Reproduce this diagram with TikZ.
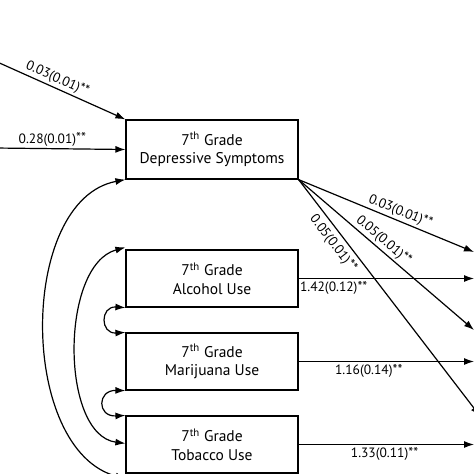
\documentclass[tikz,border=0pt]{standalone}
\usepackage{fontspec}
\setmainfont{PT Sans}
\usetikzlibrary{arrows.meta}
\newcommand{\sig}{\raisebox{0.1ex}{\fontsize{14}{14}\selectfont **}}
\begin{document}
\begin{tikzpicture}[x=1pt,y=-1pt,
  box/.style={draw,line width=1.2pt,minimum width=172pt,align=center,font=\fontsize{15.5}{18.5}\selectfont,inner sep=0pt},
  conn/.style={line width=1.2pt,-{Latex[length=10pt,width=7pt]}},
  dbl/.style={line width=1.2pt,{Latex[length=10pt,width=7pt]}-{Latex[length=10pt,width=7pt]}},
  lab/.style={font=\fontsize{13.5}{15}\selectfont,inner sep=2pt}]
\useasboundingbox (0,0) rectangle (474,474);
\clip (0,0) rectangle (474,474);
\node[box,minimum height=59pt] (dep) at (212,149.5) {7\textsuperscript{th} Grade\\Depressive Symptoms};
\node[box,minimum height=57pt] (alc) at (212,278.5) {7\textsuperscript{th} Grade\\Alcohol Use};
\node[box,minimum height=57pt] (mar) at (212,361.5) {7\textsuperscript{th} Grade\\Marijuana Use};
\node[box,minimum height=57pt] (tob) at (212,444.5) {7\textsuperscript{th} Grade\\Tobacco Use};
\coordinate (l1) at (-5,61);
\coordinate (l2) at (-5,148);
\coordinate (r1) at (474,252);
\coordinate (r2) at (474,330);
\coordinate (r3) at (480,416);
\coordinate (ra) at (474,278.5);
\coordinate (rm) at (474,361.5);
\coordinate (rt) at (474,444.5);
% left inputs
\draw[conn] (l1) -- node[lab,sloped,above,pos=0.45]{0.03(0.01)\sig} (dep.north west);
\draw[conn] (l2) -- node[lab,above,pos=0.44]{0.28(0.01)\sig} (dep.west);
% right outputs
\draw[conn] (dep.south east) -- node[lab,sloped,above,pos=0.56]{0.03(0.01)\sig} (r1);
\draw[conn] (dep.south east) -- node[lab,sloped,above,pos=0.45]{0.05(0.01)\sig} (r2);
\draw[conn] (dep.south east) -- node[lab,sloped,below=2pt,pos=0.24]{0.05(0.01)\sig} (r3);
\draw[conn] (alc.east) -- node[lab,below,pos=0.2]{1.42(0.12)\sig} (ra);
\draw[conn] (mar.east) -- node[lab,below,pos=0.4]{1.16(0.14)\sig} (rm);
\draw[conn] (tob.east) -- node[lab,below,pos=0.49]{1.33(0.11)\sig} (rt);
% correlations
\draw[dbl] (dep.south west) .. controls (18,200) and (18,450) .. ([yshift=-5pt]tob.south west);
\draw[dbl] ([yshift=2pt]alc.north west) .. controls (60,265) and (60,435) .. ([yshift=-28pt]tob.north west);
\draw[dbl] (alc.south west) .. controls (100,306) and (100,334) .. (mar.north west);
\draw[dbl] (mar.south west) .. controls (97,390) and (97,417) .. (tob.north west);
\end{tikzpicture}
\end{document}
